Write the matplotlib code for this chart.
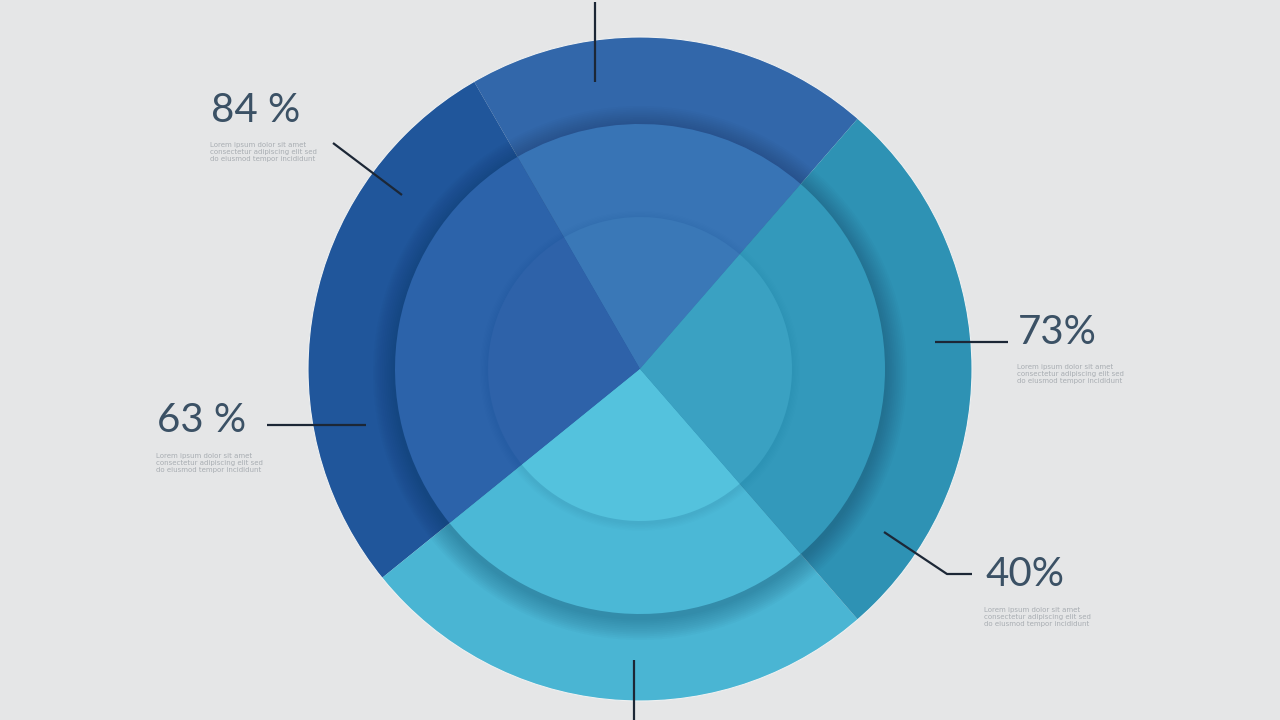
import matplotlib
matplotlib.use('Agg')
import matplotlib.pyplot as plt
from matplotlib.patches import Circle

# slice shares (degrees of the ring), counter-clockwise from the upper-right edge
slices = ['top', 'left', 'bottom', 'right']
shares = [71, 99, 92, 98]
start_angle = 49

# colours per slice for each ring
outer_colors = ['#3267aa', '#20569b', '#4ab5d3', '#2e92b4']
middle_colors = ['#3874b5', '#2c63aa', '#4bb8d6', '#3399bb']
inner_colors = ['#3a78b7', '#2e62a9', '#54c2dd', '#3aa1c2']

# labels shown next to the ring
labels = ['84 %', '73%', '40%', '63 %']
label_pos = [(211, 110), (1018, 332), (985, 575), (157, 421)]
note_lines = ['Lorem ipsum dolor sit amet',
              'consectetur adipiscing elit sed',
              'do eiusmod tempor incididunt']

# leader lines (image pixel coordinates)
leaders = [
    [(595, 2), (595, 82)],
    [(333, 143), (402, 195)],
    [(267, 425), (366, 425)],
    [(935, 342), (1008, 342)],
    [(884, 532), (947, 574), (972, 574)],
    [(634, 660), (634, 722)],
]

W, H = 1280, 720
cx, cy = 640, H - 369
r_outer, r_mid, r_inner = 332, 245, 152

fig = plt.figure(figsize=(12.8, 7.2), dpi=100)
fig.patch.set_facecolor('#e5e6e7')
ax = fig.add_axes([0, 0, 1, 1])
ax.set_facecolor('#e5e6e7')

wp = dict(linewidth=0, antialiased=True)

# outer ring
ax.pie(shares, colors=outer_colors, radius=r_outer, center=(cx, cy),
       startangle=start_angle, wedgeprops=wp)
ax.add_patch(Circle((cx, cy), r_outer, fill=False, edgecolor='#eef0f1', lw=0.8, zorder=3))

# soft shadow under the middle disc
n = 12
for k in range(n):
    rr = r_mid + 22 * (1 - k / n)
    ax.add_patch(Circle((cx, cy - 4), rr, color='#0a2440', alpha=0.022, lw=0, zorder=3))

ax.pie(shares, colors=middle_colors, radius=r_mid, center=(cx, cy),
       startangle=start_angle, wedgeprops=wp)
for p in ax.patches[-4:]:
    p.set_zorder(4)

# faint shadow under the inner disc
for k in range(6):
    rr = r_inner + 8 * (1 - k / 6)
    ax.add_patch(Circle((cx, cy - 2), rr, color='#0a2440', alpha=0.008, lw=0, zorder=5))

ax.pie(shares, colors=inner_colors, radius=r_inner, center=(cx, cy),
       startangle=start_angle, wedgeprops=wp)
for p in ax.patches[-4:]:
    p.set_zorder(6)

for pts in leaders:
    xs = [p[0] for p in pts]
    ys = [H - p[1] for p in pts]
    ax.plot(xs, ys, color='#1c2736', lw=1.6, solid_capstyle='butt', zorder=8)

for lab, (x, y) in zip(labels, label_pos):
    ax.text(x, H - y, lab, fontsize=29, color='#3b5165', family=['Lato', 'DejaVu Sans'],
            fontweight='normal', ha='left', va='center', zorder=9)
    for i, line in enumerate(note_lines):
        ax.text(x - 1, H - (y + 35 + i * 7), line, fontsize=5, color='#a8adb2',
                ha='left', va='center', zorder=9)

ax.set_xlim(0, W)
ax.set_ylim(0, H)
ax.set_aspect('equal')
ax.axis('off')

fig.savefig('out.png', dpi=100, facecolor=fig.get_facecolor())
